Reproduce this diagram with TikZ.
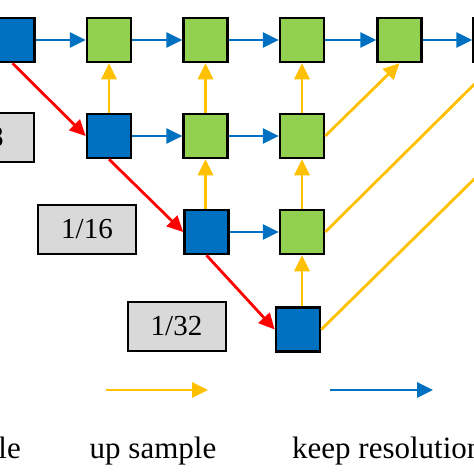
\documentclass[tikz,border=0pt]{standalone}
\usepackage{fontspec}
\setmainfont{Liberation Serif}
\usetikzlibrary{arrows.meta}
\definecolor{cblue}{HTML}{0070C0}
\definecolor{cgreen}{HTML}{92D050}
\definecolor{cyellow}{HTML}{FFC000}
\definecolor{cred}{HTML}{FF0000}
\definecolor{cgray}{HTML}{D9D9D9}
\tikzset{
  sq/.style={draw=black, line width=2.5pt, minimum size=44pt, inner sep=0pt},
  bsq/.style={sq, fill=cblue},
  gsq/.style={sq, fill=cgreen},
  lbl/.style={draw=black, fill=cgray, line width=2pt, minimum width=98pt, minimum height=49pt, inner sep=0pt, font=\fontsize{29}{32}\selectfont},
  legtext/.style={font=\fontsize{31}{34}\selectfont, inner sep=0pt},
  arr/.style={line width=2.8pt, -{Triangle[length=16pt,width=15pt]}},
  keep/.style={arr, draw=cblue},
  up/.style={arr, draw=cyellow},
  down/.style={arr, draw=cred},
}
\begin{document}
\begin{tikzpicture}[x=1pt,y=-1pt]
\useasboundingbox (0,0) rectangle (474,474);
\clip (0,0) rectangle (474,474);
% row 1
\node[bsq] (b10) at (12.5,40) {};
\node[gsq] (g11) at (109,40) {};
\node[gsq] (g12) at (205.5,40) {};
\node[gsq] (g13) at (302,40) {};
\node[gsq] (g14) at (399.5,40) {};
\node[gsq] (g15) at (495.5,40) {};
\node[gsq] (g16) at (592,40) {};
% row 2
\node[bsq] (b21) at (109,136) {};
\node[gsq] (g22) at (205.5,136) {};
\node[gsq] (g23) at (302,136) {};
% row 3
\node[bsq] (b32) at (206.5,232) {};
\node[gsq] (g33) at (302,232) {};
% row 4
\node[bsq] (b43) at (298,329.5) {};
% labels
\node[lbl] (l8) at (-15,137) {1/8};
\node[lbl] (l16) at (87,229.5) {1/16};
\node[lbl] (l32) at (176.5,326) {1/32};
% keep resolution arrows
\draw[keep] (b10) -- (g11);
\draw[keep] (g11) -- (g12);
\draw[keep] (g12) -- (g13);
\draw[keep] (g13) -- (g14);
\draw[keep] (g14) -- (g15);
\draw[keep] (b21) -- (g22);
\draw[keep] (g22) -- (g23);
\draw[keep] (b32) -- (g33);
% down sample arrows
\draw[down] (b10.south) -- (b21.west);
\draw[down] (b21.south) -- (b32.west);
\draw[down] (b32.south) -- (b43.west);
% up sample arrows
\draw[up] (b21) -- (g11);
\draw[up] (g22) -- (g12);
\draw[up] (g23) -- (g13);
\draw[up] (b32.north -| g22) -- (g22);
\draw[up] (g33) -- (g23);
\draw[up] (b43.north -| g33) -- (g33);
\draw[up] (g23.east) -- (g14.south);
\draw[up] (g33.east) -- (g15.south);
\draw[up] (b43.east) -- (g16.south);
% legend
\coordinate (ya) at (106,390);
\coordinate (yb) at (208,390);
\coordinate (ka) at (330,390);
\coordinate (kb) at (433,390);
\draw[up] (ya) -- (yb);
\draw[keep] (ka) -- (kb);
\node[legtext, anchor=base east] (tdown) at (21,458) {down sample};
\node[legtext, anchor=base] (tup) at (153,458) {up sample};
\node[legtext, anchor=base west] (tkeep) at (292,458) {keep resolution};
\end{tikzpicture}
\end{document}
